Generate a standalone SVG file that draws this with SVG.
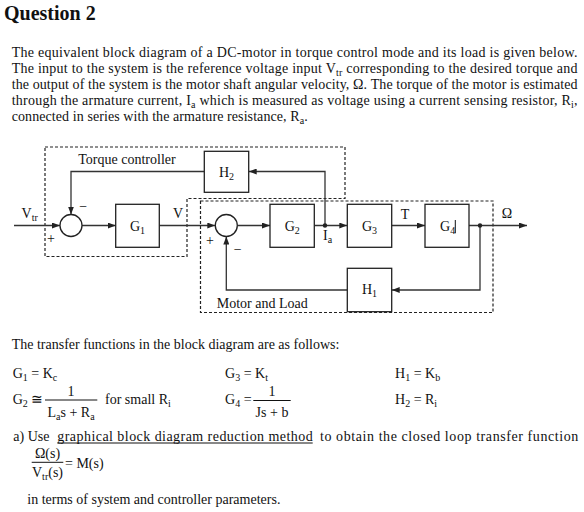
<svg xmlns="http://www.w3.org/2000/svg" width="584" height="512" viewBox="0 0 584 512">
<defs>
<style>
.t{font-family:"Liberation Serif","Times New Roman",serif;font-size:14px;fill:#111}
.q{font-family:"Liberation Serif","Times New Roman",serif;font-size:20px;font-weight:bold;fill:#111}
.s{font-size:10px;baseline-shift:-3px}
.bx{fill:#fff;stroke:#222;stroke-width:1.3}
.dash{fill:none;stroke:#222;stroke-width:1.2;stroke-dasharray:3 2}
.w{fill:none;stroke:#333;stroke-width:1.3;marker-end:url(#ah)}
.ln{stroke:#111;stroke-width:1}
</style>
<marker id="ah" markerWidth="8" markerHeight="6" refX="8" refY="3" orient="auto" markerUnits="userSpaceOnUse">
<path d="M0,0 L8,3 L0,6 z" fill="#222"/>
</marker>
</defs>
<rect width="584" height="512" fill="#fff"/>

<text class="q" x="4" y="20">Question 2</text>

<g id="paragraph">
<text class="t" x="11.7" y="57.2" textLength="565.8" lengthAdjust="spacing">The equivalent block diagram of a DC-motor in torque control mode and its load is given below.</text>
<text class="t" x="11.7" y="73.1" textLength="565.8" lengthAdjust="spacing">The input to the system is the reference voltage input V<tspan class="s">tr</tspan> corresponding to the desired torque and</text>
<text class="t" x="11.7" y="89" textLength="565.8" lengthAdjust="spacing">the output of the system is the motor shaft angular velocity, Ω. The torque of the motor is estimated</text>
<text class="t" x="11.7" y="104.9" textLength="565.8" lengthAdjust="spacing">through the armature current, I<tspan class="s">a</tspan> which is measured as voltage using a current sensing resistor, R<tspan class="s">i</tspan>,</text>
<text class="t" x="11.7" y="120.8" textLength="296" lengthAdjust="spacing">connected in series with the armature resistance, R<tspan class="s">a</tspan>.</text>
</g>

<g id="torque-controller-box">
<path class="dash" d="M45,147 H345 V198.5 H187 V256.5 H45 Z"/>
<text class="t" x="78.3" y="164">Torque controller</text>
</g>
<g id="motor-load-box">
<rect class="dash" x="200.5" y="201" width="292.5" height="111.5"/>
<text class="t" x="216.7" y="308">Motor and Load</text>
</g>

<g id="connectors">
<path class="w" d="M14,225.5 H60"/>
<path class="w" d="M82,225.5 H115.7"/>
<path class="w" d="M159.3,225.5 H215.3"/>
<path class="w" d="M237.3,225.5 H270"/>
<path class="w" d="M314.3,225.5 H347.3"/>
<path class="w" d="M391.7,225.5 H425"/>
<path class="w" d="M469,225.5 H527"/>
<path class="w" d="M325,225.5 V171.5 H248.7"/>
<path class="w" d="M204.3,171.5 H71 V214.5"/>
<path class="w" d="M480,225.5 V290 H391.7"/>
<path class="w" d="M347.3,290 H226.3 V236.5"/>
<circle cx="325" cy="225.5" r="2.2" fill="#222"/>
<circle cx="480" cy="225.5" r="2.2" fill="#222"/>
</g>

<g id="sum1">
<circle class="bx" cx="71" cy="225.5" r="11"/>
<text class="t" x="83.3" y="211" text-anchor="middle">−</text>
<text class="t" x="51" y="242.5" text-anchor="middle">+</text>
</g>
<g id="sum2">
<circle class="bx" cx="226.3" cy="225.5" r="11"/>
<text class="t" x="210" y="245" text-anchor="middle">+</text>
<text class="t" x="237.7" y="254" text-anchor="middle">−</text>
</g>
<g id="G1">
<rect class="bx" x="115.7" y="204.3" width="43.6" height="43"/>
<text class="t" x="137.5" y="230.5" text-anchor="middle">G<tspan class="s">1</tspan></text>
</g>
<g id="G2">
<rect class="bx" x="270" y="204.3" width="44.3" height="43"/>
<text class="t" x="292.2" y="230.5" text-anchor="middle">G<tspan class="s">2</tspan></text>
</g>
<g id="G3">
<rect class="bx" x="347.3" y="204.3" width="44.4" height="43"/>
<text class="t" x="369.5" y="230.5" text-anchor="middle">G<tspan class="s">3</tspan></text>
</g>
<g id="G4">
<rect class="bx" x="425" y="204.3" width="44" height="43"/>
<text class="t" x="440" y="230.5">G<tspan class="s">4</tspan></text>
<line class="ln" x1="455.3" y1="220" x2="455.3" y2="233.3"/>
</g>
<g id="H1">
<rect class="bx" x="347.3" y="268.3" width="44.4" height="43.4"/>
<text class="t" x="369.5" y="293.5" text-anchor="middle">H<tspan class="s">1</tspan></text>
</g>
<g id="H2">
<rect class="bx" x="204.3" y="151.3" width="44.4" height="41"/>
<text class="t" x="226.5" y="176.5" text-anchor="middle">H<tspan class="s">2</tspan></text>
</g>

<g id="signal-labels">
<text class="t" x="21.5" y="218">V<tspan class="s">tr</tspan></text>
<text class="t" x="178" y="218.3" text-anchor="middle">V</text>
<text class="t" x="323" y="239.5">I<tspan class="s">a</tspan></text>
<text class="t" x="405" y="219" text-anchor="middle">T</text>
<text class="t" x="507" y="218.3" text-anchor="middle">Ω</text>
</g>

<g id="transfer-functions">
<text class="t" x="11.7" y="349">The transfer functions in the block diagram are as follows:</text>
<text class="t" x="12.7" y="378">G<tspan class="s">1</tspan> = K<tspan class="s">c</tspan></text>
<text class="t" x="225" y="378">G<tspan class="s">3</tspan> = K<tspan class="s">t</tspan></text>
<text class="t" x="395" y="378">H<tspan class="s">1</tspan> = K<tspan class="s">b</tspan></text>

<text class="t" x="12.7" y="404">G<tspan class="s">2</tspan> ≅</text>
<text class="t" x="71" y="395.5" text-anchor="middle">1</text>
<line class="ln" x1="45" y1="400" x2="97.3" y2="400"/>
<text class="t" x="71" y="416.5" text-anchor="middle">L<tspan class="s">a</tspan>s + R<tspan class="s">a</tspan></text>
<text class="t" x="105" y="404">for small R<tspan class="s">i</tspan></text>

<text class="t" x="225" y="404">G<tspan class="s">4</tspan> =</text>
<text class="t" x="272" y="395.5" text-anchor="middle">1</text>
<line class="ln" x1="253.3" y1="400.5" x2="290.7" y2="400.5"/>
<text class="t" x="272" y="416.5" text-anchor="middle">Js + b</text>
<text class="t" x="395" y="404">H<tspan class="s">2</tspan> = R<tspan class="s">i</tspan></text>
</g>

<g id="question-a">
<text class="t" x="13.3" y="440.5">a) Use</text>
<text class="t" x="57.3" y="440.5" textLength="255.4" lengthAdjust="spacing">graphical block diagram reduction method</text>
<line class="ln" x1="57.3" y1="443" x2="312.7" y2="443"/>
<text class="t" x="320" y="440.5" textLength="258.3" lengthAdjust="spacing">to obtain the closed loop transfer function</text>
<text class="t" x="47.5" y="457.5" text-anchor="middle">Ω(s)</text>
<line class="ln" x1="31.7" y1="462.3" x2="63.3" y2="462.3"/>
<text class="t" x="47.5" y="477" text-anchor="middle">V<tspan class="s">tr</tspan>(s)</text>
<text class="t" x="65" y="468">= M(s)</text>
<text class="t" x="27.3" y="504">in terms of system and controller parameters.</text>
</g>
</svg>
